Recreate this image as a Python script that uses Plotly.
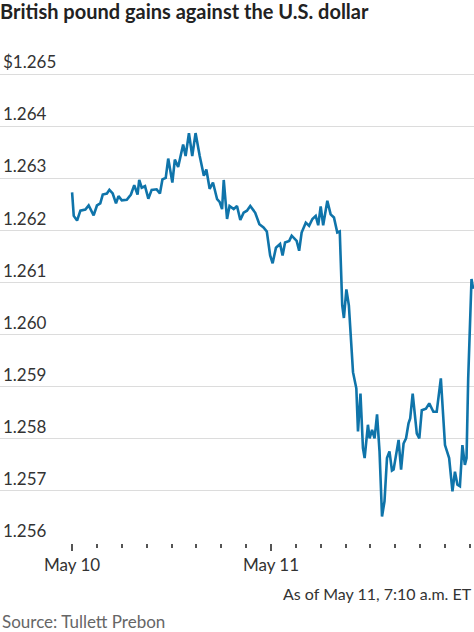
import plotly.graph_objects as go

# hours since May 10, 00:00
hours = [0, 0.2, 0.6, 1.0, 1.6, 2.0, 2.6, 3.0, 3.4, 3.7, 4.2, 4.5, 4.9, 5.3, 5.6, 6.0, 6.6, 7.1, 7.5, 7.9,
         8.1, 8.4, 8.8, 9.2, 9.6, 10.2, 10.6, 10.9, 11.3, 11.6, 12.1, 12.4, 12.8, 13.4, 13.7, 14.1, 14.5, 14.9,
         15.4, 15.9, 16.2, 16.6, 17.0, 17.5, 17.8, 18.1, 18.3, 18.7, 19.0, 19.5, 19.9, 20.3, 20.7, 21.1, 21.5,
         22.1, 22.6, 23.1, 23.5, 23.9, 24.2, 24.6, 25.1, 25.4, 25.7, 26.2, 26.5, 27.1, 27.4, 27.7, 28.2, 28.6,
         29.0, 29.4, 29.7, 30.0, 30.3, 30.8, 31.2, 31.6, 32.0, 32.3, 32.6, 32.8, 33.1, 33.4, 33.9, 34.3, 34.5,
         34.8, 35.1, 35.3, 35.7, 35.9, 36.2, 36.5, 36.8, 37.1, 37.4, 37.7, 38.0, 38.3, 38.6, 38.8, 39.4, 39.7,
         40.0, 40.3, 40.6, 40.8, 41.1, 41.6, 41.9, 42.2, 42.7, 43.1, 43.6, 44.0, 44.5, 45.0, 45.5, 45.9, 46.2,
         46.5, 46.8, 47.1, 47.4, 47.6, 47.8, 48.2, 48.4]
rate = [1.26273, 1.26228, 1.26219, 1.26238, 1.2624, 1.26248, 1.26229, 1.26248, 1.26252, 1.26269, 1.26271,
        1.26278, 1.26271, 1.26252, 1.26266, 1.26258, 1.26259, 1.26269, 1.26287, 1.26269, 1.26297, 1.26282,
        1.26285, 1.26261, 1.26278, 1.26279, 1.26271, 1.26298, 1.26301, 1.26338, 1.26292, 1.26336, 1.26322,
        1.26365, 1.26343, 1.26387, 1.26343, 1.26387, 1.26343, 1.26305, 1.26317, 1.2628, 1.26292, 1.2626,
        1.26255, 1.26241, 1.26297, 1.26222, 1.26247, 1.26241, 1.26247, 1.2622, 1.26234, 1.26238, 1.26247,
        1.26234, 1.26212, 1.26206, 1.26198, 1.26152, 1.26137, 1.26167, 1.26174, 1.26152, 1.26177, 1.2618,
        1.2619, 1.2618, 1.26161, 1.26196, 1.26215, 1.26209, 1.26222, 1.26228, 1.2621, 1.26246, 1.2621,
        1.26257, 1.26231, 1.26225, 1.26196, 1.26198, 1.26056, 1.26032, 1.26087, 1.26056, 1.25928, 1.25897,
        1.25814, 1.25887, 1.25782, 1.25763, 1.25827, 1.25801, 1.25817, 1.25801, 1.25847, 1.25776, 1.25651,
        1.2568, 1.25763, 1.25776, 1.25739, 1.25741, 1.25798, 1.25741, 1.25791, 1.25801, 1.2583, 1.25839,
        1.25887, 1.2581, 1.25801, 1.25855, 1.25858, 1.25868, 1.25852, 1.25852, 1.25916, 1.25788, 1.25763,
        1.25699, 1.25737, 1.25712, 1.25709, 1.25788, 1.2575, 1.25763, 1.25916, 1.26107, 1.26088]

y_ticks = [1.256, 1.257, 1.258, 1.259, 1.260, 1.261, 1.262, 1.263, 1.264, 1.265]
y_labels = ["1.256", "1.257", "1.258", "1.259", "1.260", "1.261", "1.262", "1.263", "1.264", "$1.265"]
x_ticks = [0, 24]
x_labels = ["May 10", "May 11"]
minor_ticks = [3, 6, 9, 12, 15, 18, 21, 27, 30, 33, 36, 39, 42, 45, 48]

FONT = "Lato, Roboto, sans-serif"

fig = go.Figure()
fig.add_trace(go.Scatter(x=hours, y=rate, mode="lines",
                         line=dict(color="#0f74aa", width=2.6), hoverinfo="skip"))

fig.update_layout(
    width=474, height=632,
    margin=dict(l=0, r=0, t=44, b=89),
    paper_bgcolor="white", plot_bgcolor="white",
    showlegend=False,
    font=dict(family=FONT, size=17, color="#333"),
    title=dict(text="<b>British pound gains against the U.S. dollar</b>",
               x=0, xanchor="left", y=0.992, yanchor="top",
               font=dict(family=FONT, size=20, color="#222")),
    xaxis=dict(range=[-8.7, 48.5], tickmode="array", tickvals=x_ticks, ticktext=x_labels,
               ticks="outside", ticklen=7, tickcolor="#555", tickwidth=1.5,
               showgrid=False, zeroline=False, showline=False,
               tickfont=dict(size=17, color="#333"),
               minor=dict(tickmode="array", tickvals=minor_ticks, ticks="outside",
                          ticklen=4, tickcolor="#555", tickwidth=1.5, showgrid=False)),
    yaxis=dict(range=[1.256, 1.26558], tickmode="array", tickvals=y_ticks, ticktext=y_labels,
               ticklabelposition="inside top", showgrid=True, gridcolor="#dcdcdc", gridwidth=1,
               zeroline=False, showline=False, ticks="",
               tickfont=dict(size=17, color="#333")),
    annotations=[
        dict(text="As of May 11, 7:10 a.m. ET", xref="paper", yref="paper", x=1, y=-0.078,
             xanchor="right", yanchor="top", showarrow=False,
             font=dict(family=FONT, size=16, color="#333")),
        dict(text="Source: Tullett Prebon", xref="paper", yref="paper", x=0, y=-0.132,
             xanchor="left", yanchor="top", showarrow=False,
             font=dict(family=FONT, size=17, color="#666")),
    ],
)

fig.write_html("out.html", config={"displayModeBar": False},
               post_script="document.body.style.margin='0';")
